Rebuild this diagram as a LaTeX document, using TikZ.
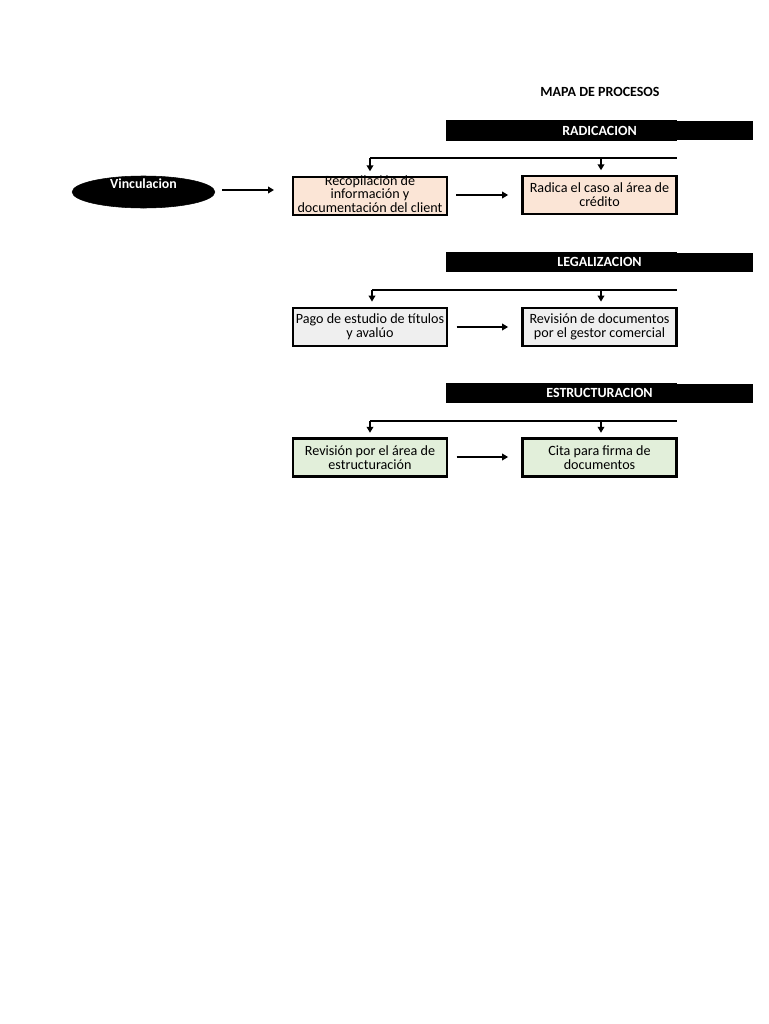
\documentclass[tikz,border=0pt]{standalone}
\usepackage{fontspec}
\setmainfont{Carlito}
\usetikzlibrary{arrows.meta,shapes.geometric}
\definecolor{peach}{HTML}{FBE5D6}
\definecolor{lgray}{HTML}{EFEFEF}
\definecolor{lgreen}{HTML}{E2EFDA}
\tikzset{
  procbox/.style={draw=black,line width=1.6pt,minimum width=115.5pt,minimum height=28.5pt,inner sep=0pt,align=center,font=\fontsize{10.6}{10.5}\selectfont},
  headbar/.style={fill=black,minimum width=230pt,minimum height=15.5pt,inner sep=0pt,text=white,font=\bfseries\fontsize{10.5}{10}\selectfont},
  conn/.style={line width=1.5pt},
  arr/.style={line width=1.6pt,-{Triangle[length=4.5pt,width=5pt]}},
}
\begin{document}
\begin{tikzpicture}[x=0.75pt,y=-0.75pt]
\useasboundingbox (0,0) rectangle (768,1024);
\node[font=\bfseries\fontsize{10.5}{10}\selectfont] (title) at (600,92) {MAPA DE PROCESOS};

% RADICACION
\node[headbar] (h1) at (599.5,130.5) {RADICACION};
\fill[white] (676.5,119) rectangle (754,121);
\fill[white] (676.5,140) rectangle (754,142);
\coordinate (l1r) at (677,158);
\coordinate (l1l) at (370,158);
\coordinate (l1m) at (601,158);
\draw[conn] (l1l) -- (l1r);
\node[draw=black,fill=black,ellipse,minimum width=107pt,minimum height=24pt,inner sep=0pt] (vin) at (143.5,192) {};
\node[text=white,font=\bfseries\fontsize{10.4}{10.5}\selectfont] (vint) at (143.5,184) {Vinculacion};
\node[procbox,fill=peach] (b1) at (370,196) {};
\begin{scope}
\clip (b1.north west) rectangle (b1.south east);
\node[align=center,inner sep=0pt,font=\fontsize{10.6}{10}\selectfont] (b1t) at (370,194) {Recopilación de\\información y\\documentación del client};
\end{scope}
\node[procbox,fill=peach] (b2) at (599.5,195) {Radica el caso al área de\\crédito};
\draw[arr] (l1l) -- ([yshift=3.5pt]b1.north -| l1l);
\draw[arr] (l1m) -- ([yshift=3.5pt]b2.north -| l1m);
\coordinate (a1s) at (222,190);
\coordinate (a1e) at (274,190);
\draw[arr] (a1s) -- (a1e);
\draw[arr] ([xshift=6pt]b1.east |- 0,195) -- ([xshift=-10pt]b2.west |- 0,195);

% LEGALIZACION
\node[headbar] (h2) at (599.5,262) {LEGALIZACION};
\fill[white] (676.5,251) rectangle (754,252.5);
\fill[white] (676.5,271.5) rectangle (754,273);
\coordinate (l2r) at (677,290);
\coordinate (l2l) at (372,290);
\coordinate (l2m) at (601,290);
\draw[conn] (l2l) -- (l2r);
\node[procbox,fill=lgray] (b3) at (370,327) {Pago de estudio de títulos\\y avalúo};
\node[procbox,fill=lgray] (b4) at (599.5,327) {Revisión de documentos\\por el gestor comercial};
\draw[arr] (l2l) -- ([yshift=4pt]b3.north -| l2l);
\draw[arr] (l2m) -- ([yshift=4pt]b4.north -| l2m);
\draw[arr] ([xshift=6.5pt]b3.east |- 0,327) -- ([xshift=-10pt]b4.west |- 0,327);

% ESTRUCTURACION
\node[headbar] (h3) at (599.5,393) {ESTRUCTURACION};
\fill[white] (676.5,382) rectangle (754,383.5);
\fill[white] (676.5,402.5) rectangle (754,404);
\coordinate (l3r) at (677,421);
\coordinate (l3l) at (370,421);
\coordinate (l3m) at (601,421);
\draw[conn] (l3l) -- (l3r);
\node[procbox,fill=lgreen] (b5) at (370,457.5) {Revisión por el área de\\estructuración};
\node[procbox,fill=lgreen] (b6) at (599.5,457.5) {Cita para firma de\\documentos};
\draw[arr] (l3l) -- ([yshift=3.5pt]b5.north -| l3l);
\draw[arr] (l3m) -- ([yshift=3.5pt]b6.north -| l3m);
\draw[arr] ([xshift=6.5pt]b5.east |- 0,457) -- ([xshift=-10pt]b6.west |- 0,457);
\end{tikzpicture}
\end{document}
